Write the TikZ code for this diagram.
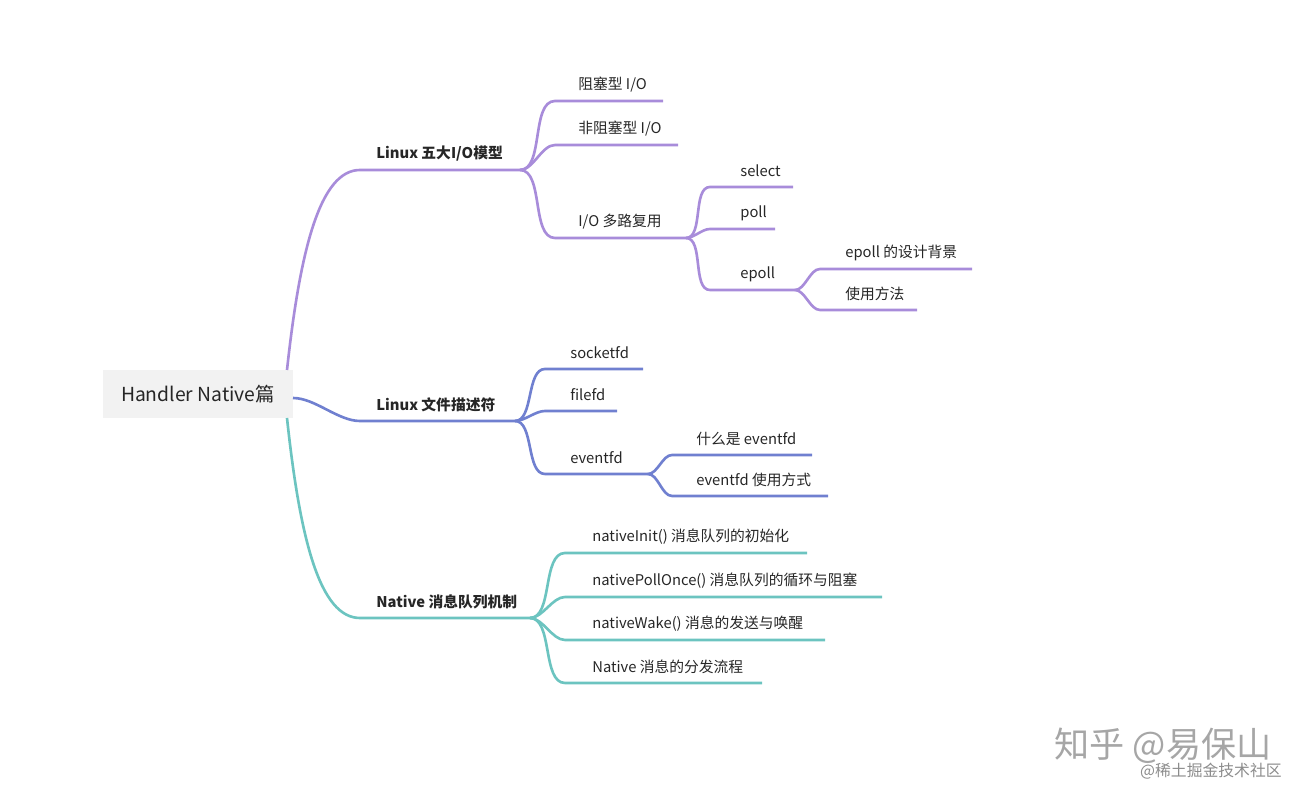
\documentclass[tikz,border=0pt]{standalone}
\usepackage{fontspec}
\setmainfont{Noto Sans CJK SC}
\begin{document}
\begin{tikzpicture}[x=0.02cm,y=-0.02cm,
  lbl/.style={anchor=west,inner sep=0,font=\fontsize{8.4}{10}\selectfont,text=black!85},
  sub/.style={lbl,font=\fontsize{8.4}{10}\selectfont\bfseries},
  pu/.style={draw={rgb,255:red,168;green,140;blue,218},line width=1.5pt},
  bl/.style={draw={rgb,255:red,112;green,128;blue,208},line width=1.5pt},
  te/.style={draw={rgb,255:red,108;green,196;blue,192},line width=1.5pt},
  cv/.style={out=0,in=180,looseness=0.8}]
\useasboundingbox (0,0) rectangle (1303,803);
\node[fill=black!5,minimum width=190*0.02cm,minimum height=48*0.02cm,font=\fontsize{11}{13}\selectfont,text=black!85] (root) at (198,394) {Handler Native篇};
% branch 1
\coordinate (r1) at (287,370); \coordinate (a0) at (360,170); \coordinate (a1) at (520,170);
\node[sub] (ta) at (376,154) {Linux 五大I/O模型};
\draw[pu] (r1) .. controls (300,250) and (320,170) .. (a0) -- (a1);
\foreach \n/\y/\e/\t in {b1/101/663/{阻塞型 I/O}, b2/145/678/{非阻塞型 I/O}, b3/238/686/{I/O 多路复用}}{
  \coordinate (\n s) at (555,\y); \coordinate (\n e) at (\e,\y);
  \node[lbl] (\n t) at (578,\y-16) {\t};
  \draw[pu] (a1) to[cv] (\n s) -- (\n e);}
\foreach \n/\y/\e/\t in {c1/187/793/select, c2/229/775/poll, c3/290/795/epoll}{
  \coordinate (\n s) at (710,\y); \coordinate (\n e) at (\e,\y);
  \node[lbl] (\n t) at (740,\y-16) {\t};
  \draw[pu] (b3e) to[cv] (\n s) -- (\n e);}
\foreach \n/\y/\e/\t in {d1/269/972/epoll 的设计背景, d2/310/917/使用方法}{
  \coordinate (\n s) at (820,\y); \coordinate (\n e) at (\e,\y);
  \node[lbl] (\n t) at (845,\y-16) {\t};
  \draw[pu] (c3e) to[cv] (\n s) -- (\n e);}
% branch 2
\coordinate (r2) at (293,398); \coordinate (f0) at (360,421); \coordinate (f1) at (515,421);
\node[sub] (tf) at (376,405) {Linux 文件描述符};
\draw[bl] (r2) to[out=0,in=180,looseness=0.8] (f0) -- (f1);
\foreach \n/\y/\e/\t in {g1/369/643/socketfd, g2/411/617/filefd, g3/474/648/eventfd}{
  \coordinate (\n s) at (545,\y); \coordinate (\n e) at (\e,\y);
  \node[lbl] (\n t) at (570,\y-16) {\t};
  \draw[bl] (f1) to[cv] (\n s) -- (\n e);}
\foreach \n/\y/\e/\t in {h1/455/812/什么是 eventfd, h2/496/828/eventfd 使用方式}{
  \coordinate (\n s) at (672,\y); \coordinate (\n e) at (\e,\y);
  \node[lbl] (\n t) at (696,\y-16) {\t};
  \draw[bl] (g3e) to[cv] (\n s) -- (\n e);}
% branch 3
\coordinate (r3) at (287,418); \coordinate (k0) at (360,618); \coordinate (k1) at (530,618);
\node[sub] (tk) at (376,602) {Native 消息队列机制};
\draw[te] (r3) .. controls (300,540) and (320,618) .. (k0) -- (k1);
\foreach \n/\y/\e/\t in {m1/553/807/nativeInit() 消息队列的初始化, m2/597/882/nativePollOnce() 消息队列的循环与阻塞, m3/640/825/nativeWake() 消息的发送与唤醒, m4/683/762/Native 消息的分发流程}{
  \coordinate (\n s) at (565,\y); \coordinate (\n e) at (\e,\y);
  \node[lbl] (\n t) at (592,\y-16) {\t};
  \draw[te] (k1) to[cv] (\n s) -- (\n e);}
% watermark
\node[anchor=east,inner sep=0,text=black!35,font=\fontsize{20}{24}\selectfont] (wm1) at (1272,746) {知乎 @易保山};
\node[anchor=east,inner sep=0,text=black!45,font=\fontsize{9}{11}\selectfont] (wm2) at (1282,771) {@稀土掘金技术社区};
\end{tikzpicture}
\end{document}
